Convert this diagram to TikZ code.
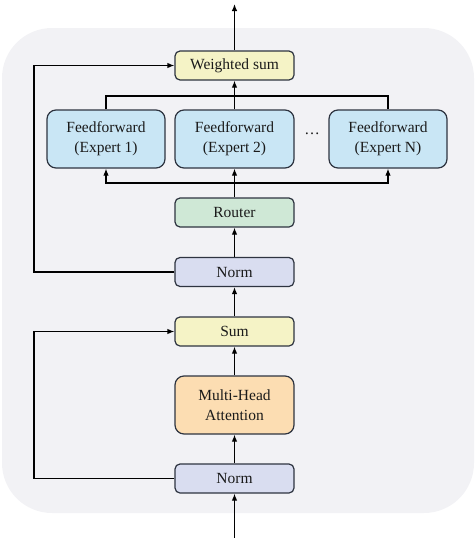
\documentclass[tikz,border=0pt]{standalone}
\usepackage{fontspec}
\setmainfont{Liberation Serif}
\usetikzlibrary{arrows.meta}
\definecolor{bgc}{HTML}{F2F2F5}
\definecolor{yel}{HTML}{F5F3C6}
\definecolor{blu}{HTML}{C9E6F5}
\definecolor{grn}{HTML}{CFE8D6}
\definecolor{lav}{HTML}{D9DDF0}
\definecolor{org}{HTML}{FCDDB2}
\definecolor{edge}{HTML}{2E3440}
\definecolor{txt}{HTML}{1A1A1A}
\tikzset{
  blk/.style={draw=edge, line width=1.2pt, rounded corners=5pt, minimum width=119pt, minimum height=29pt, inner sep=0pt, align=center, text=txt, font=\fontsize{15.5}{20}\selectfont},
  bigblk/.style={blk, minimum height=58pt, rounded corners=9pt},
  conn/.style={line width=1.2pt, draw=black},
  arr/.style={conn, -{Latex[length=7pt,width=5.5pt]}}
}
\begin{document}
\begin{tikzpicture}[x=1pt,y=-1pt]
\useasboundingbox (0,0) rectangle (474,538);
\fill[bgc, rounded corners=50pt] (2,28) rectangle (474,513);
\node[blk, fill=yel] (ws) at (234.5,65.5) {Weighted sum};
\node[bigblk, fill=blu, minimum width=118pt] (e1) at (106,139) {Feedforward\\(Expert 1)};
\node[bigblk, fill=blu] (e2) at (234.5,139) {Feedforward\\(Expert 2)};
\node[bigblk, fill=blu, minimum width=118pt] (en) at (388,139) {Feedforward\\(Expert N)};
\node[text=txt, font=\fontsize{15.5}{18}\selectfont] (dots) at (312,134) {\dots};
\node[blk, fill=grn] (router) at (234.5,212.5) {Router};
\node[blk, fill=lav] (norm2) at (234.5,272) {Norm};
\node[blk, fill=yel] (sum) at (234.5,331.5) {Sum};
\node[bigblk, fill=org] (mha) at (234.5,405) {Multi-Head\\Attention};
\node[blk, fill=lav] (norm1) at (234.5,478.5) {Norm};
\coordinate (in) at (234.5,538);
\coordinate (out) at (234.5,4);
\coordinate (top) at (234.5,96);
\coordinate (bot) at (234.5,183);
% main flow
\draw[arr] (in) -- (norm1.south);
\draw[arr] (norm1) -- (mha);
\draw[arr] (mha) -- (sum);
\draw[arr] (sum) -- (norm2);
\draw[arr] (norm2) -- (router);
\draw[arr] (router) -- (e2);
\draw[arr] (e2) -- (ws);
\draw[arr] (ws) -- (out);
% split / merge
\draw[arr] (bot) -| (e1.south);
\draw[arr] (bot) -| (en.south);
\draw[conn] (e1.north) |- (top) -| (en.north);
% residuals
\draw[arr] (norm1.west) -| (34,331.5) -- (sum.west);
\draw[arr] (norm2.west) -| (34,65.5) -- (ws.west);
\end{tikzpicture}
\end{document}
